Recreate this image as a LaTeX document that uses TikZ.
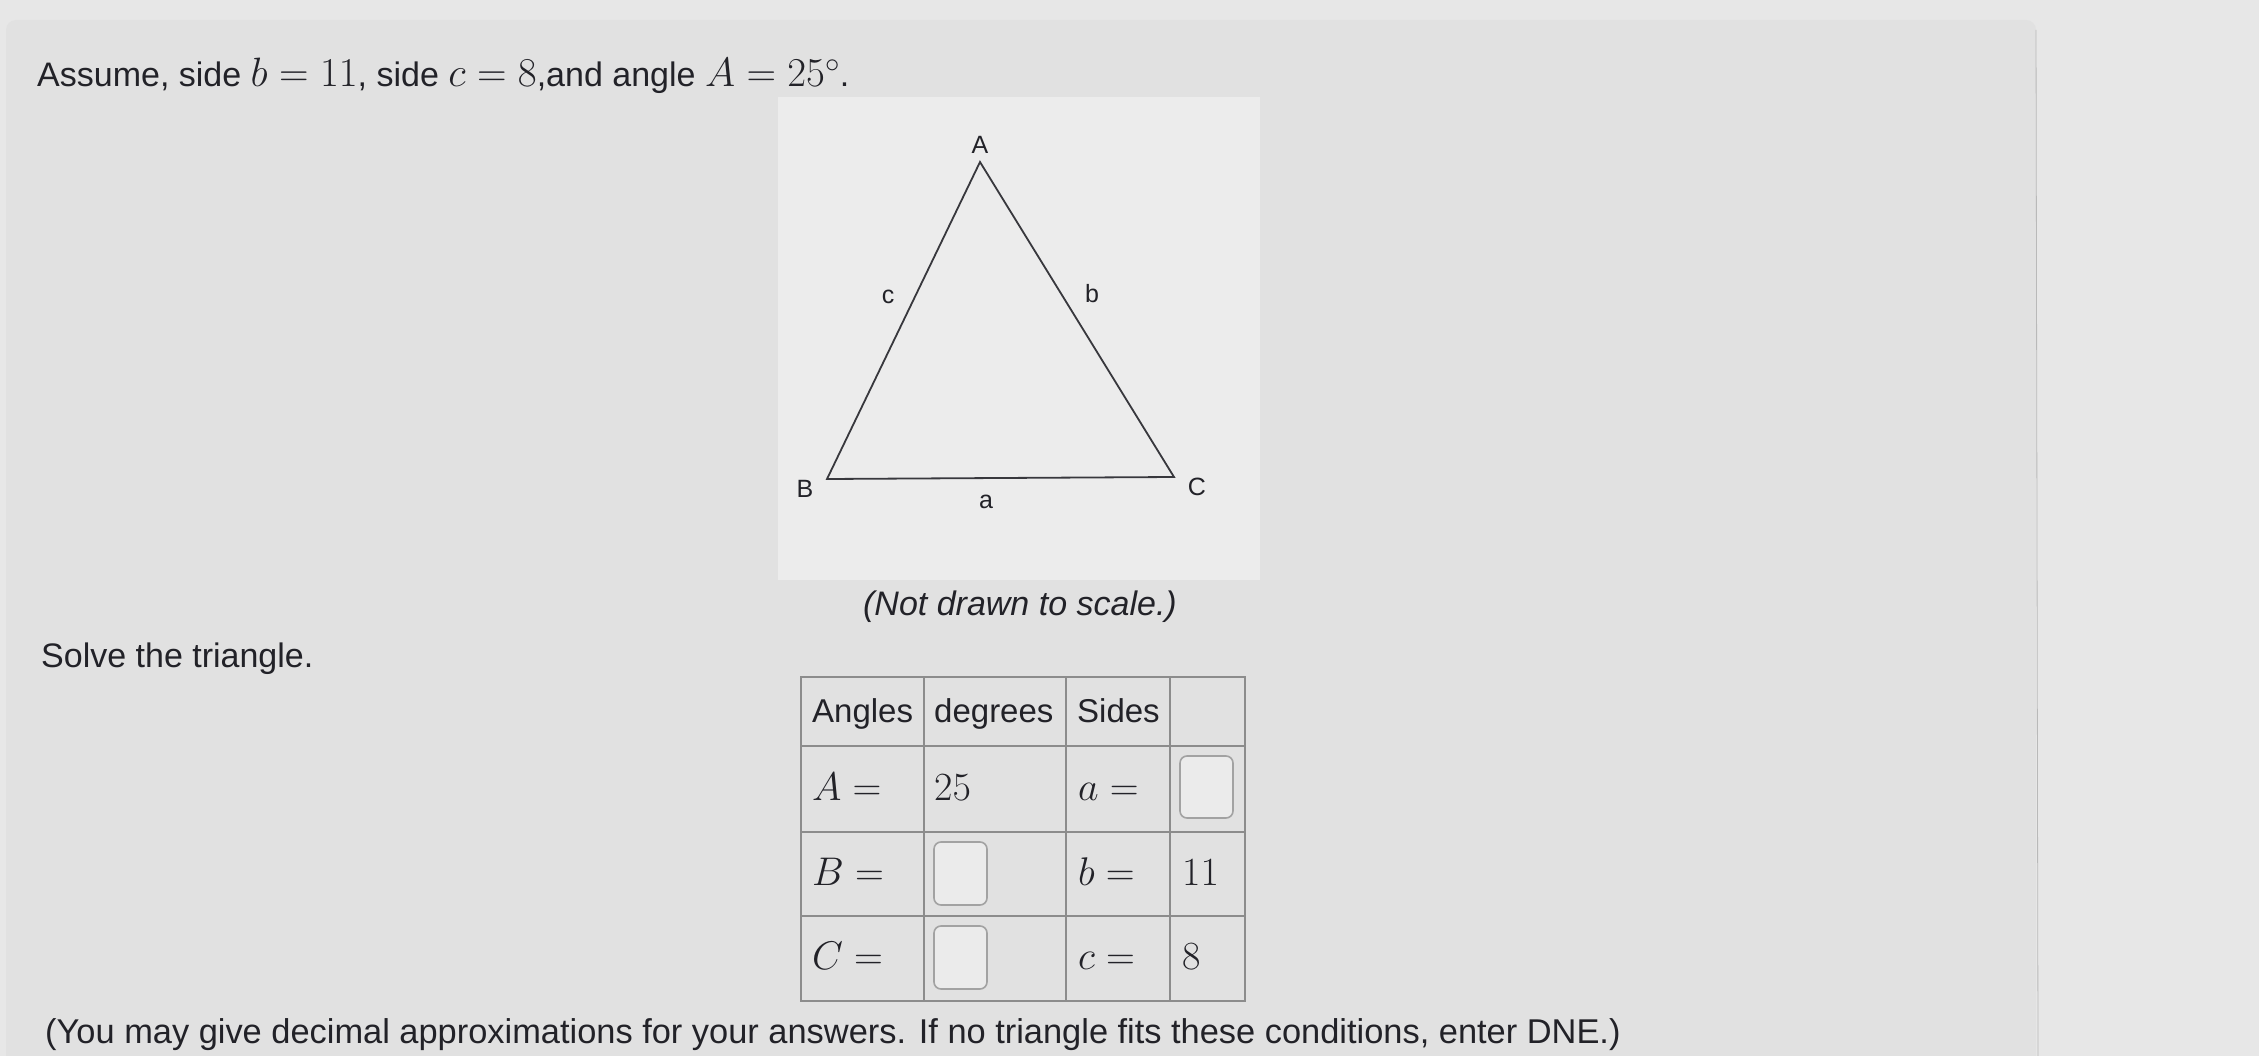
\RequirePackage{fix-cm}
\documentclass[tikz,border=0pt]{standalone}
\usepackage[no-math]{fontspec}
\setmainfont{Liberation Sans}
\definecolor{bgout}{HTML}{E7E7E7}
\definecolor{card}{HTML}{E1E1E1}
\definecolor{imgbg}{HTML}{ECECEC}
\definecolor{ink}{HTML}{222228}
\definecolor{gridc}{HTML}{8C8C8C}
\definecolor{boxc}{HTML}{A2A2A2}
\definecolor{boxfill}{HTML}{EBEBEB}
\newcommand{\bm}[1]{{\fontsize{41}{48}\selectfont$#1$}}
\newcommand{\tm}[1]{{\fontsize{40}{46}\selectfont$#1$}}
\tikzset{
  body/.style={anchor=base west, inner sep=0pt, text=ink, font=\fontsize{34}{40}\selectfont},
  tbl/.style={anchor=base west, inner sep=0pt, text=ink, font=\fontsize{33}{38}\selectfont},
  vlab/.style={inner sep=0pt, text=ink, font=\fontsize{25}{30}\selectfont},
  tri/.style={draw=ink!90, line width=1.8pt, line join=miter},
  gridline/.style={draw=gridc, line width=1.8pt},
  inbox/.style={draw=boxc, fill=boxfill, line width=1.6pt, rounded corners=7pt}
}
\begin{document}
\begin{tikzpicture}[x=1pt,y=-1pt]
\useasboundingbox (0,0) rectangle (2259,1056);
\fill[bgout] (0,0) rectangle (2259,1056);
% card
\fill[card, rounded corners=10pt] (6,20) rectangle (2036,1080);
\draw[gray!55, line width=0.8pt] (2036,30) -- (2038,1056);
% texts
\node[body] (given) at (37,87) {Assume, side \bm{b = 11}, side \bm{c = 8},and angle \bm{A = 25^\circ}.};
% image box
\fill[imgbg] (778,97) rectangle (1260,580);
\coordinate (A) at (980,162);
\coordinate (B) at (827,479);
\coordinate (C) at (1174,477);
\draw[tri] (A) -- (B) -- (C) -- cycle;
\node[vlab] (lA) at (980,145) {A};
\node[vlab] (lB) at (805,489) {B};
\node[vlab] (lC) at (1197,487) {C};
\node[vlab] (la) at (986,502) {a};
\node[vlab] (lb) at (1092,294) {b};
\node[vlab] (lc) at (888,297) {c};
\node[body, anchor=base] (note) at (1020,615) {\itshape (Not drawn to scale.)};
\node[body] (solve) at (41,667) {Solve the triangle.};
% table
\fill[card] (801,677) rectangle (1245,1001);
\draw[gridline] (801,677) rectangle (1245,1001);
\draw[gridline] (924,677) -- (924,1001);
\draw[gridline] (1066,677) -- (1066,1001);
\draw[gridline] (1170,677) -- (1170,1001);
\draw[gridline] (801,746) -- (1245,746);
\draw[gridline] (801,832) -- (1245,832);
\draw[gridline] (801,916) -- (1245,916);
\node[tbl] (h1) at (812,722) {Angles};
\node[tbl] (h2) at (934,722) {degrees};
\node[tbl] (h3) at (1077,722) {Sides};
\node[tbl] (r1a) at (812,800) {\tm{A =}};
\node[tbl] (r1b) at (934,800) {\tm{25}};
\node[tbl] (r1c) at (1078,800) {\tm{a =}};
\draw[inbox] (1180,756) rectangle (1233,818);
\node[tbl] (r2a) at (812,885) {\tm{B =}};
\draw[inbox] (934,842) rectangle (987,905);
\node[tbl] (r2c) at (1078,885) {\tm{b =}};
\node[tbl] (r2d) at (1182,885) {\tm{11}};
\node[tbl] (r3a) at (812,969) {\tm{C =}};
\draw[inbox] (934,926) rectangle (987,989);
\node[tbl] (r3c) at (1078,969) {\tm{c =}};
\node[tbl] (r3d) at (1182,969) {\tm{8}};
\node[body, font=\fontsize{34.4}{40}\selectfont] (hint) at (45,1043) {(You may give decimal approximations for your answers. If no triangle fits these conditions, enter DNE.)};
\end{tikzpicture}
\end{document}
